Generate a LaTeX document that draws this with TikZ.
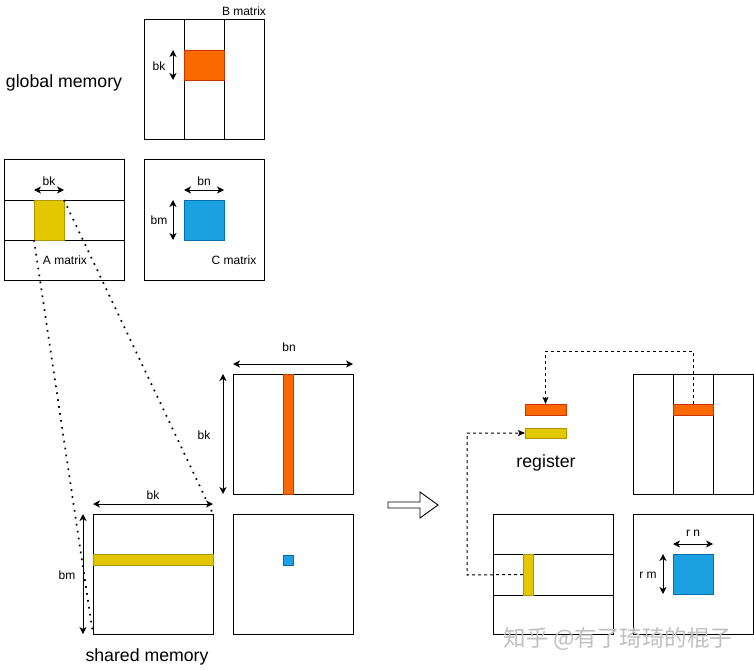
\documentclass[tikz,border=0pt]{standalone}
\usepackage{fontspec}
\setmainfont{Liberation Sans}
\newfontfamily\cjkfont{Noto Sans CJK SC}
\usetikzlibrary{arrows.meta}
\definecolor{orF}{HTML}{FA6800}
\definecolor{orD}{HTML}{C73500}
\definecolor{yeF}{HTML}{E3C800}
\definecolor{yeD}{HTML}{B09500}
\definecolor{blF}{HTML}{1BA1E2}
\definecolor{blD}{HTML}{006EAF}
\tikzset{
  mat/.style={draw, line width=1pt, minimum width=120pt, minimum height=120pt, inner sep=0pt, outer sep=0pt, anchor=north west},
  blk/.style={inner sep=0pt, outer sep=0pt, anchor=north west, line width=0.8pt},
  orblk/.style={blk, fill=orF, draw=orD},
  yeblk/.style={blk, fill=yeF, draw=yeD},
  blblk/.style={blk, fill=blF, draw=blD},
  dim/.style={{Stealth[length=7pt,width=7pt,inset=2pt]}-{Stealth[length=7pt,width=7pt,inset=2pt]}, line width=1pt},
  big/.style={font=\fontsize{17.7}{20}\selectfont, inner sep=0pt},
  small/.style={font=\fontsize{12}{14}\selectfont, inner sep=0pt},
  dotline/.style={line width=1.7pt, dash pattern=on 1.7pt off 5.3pt},
  dashline/.style={line width=1pt, dash pattern=on 3pt off 3pt, -{Stealth[length=7pt,width=6pt,inset=1.5pt]}},
  divline/.style={line width=1pt}
}
\begin{document}
\begin{tikzpicture}[x=1pt,y=-1pt]
\useasboundingbox (0,0) rectangle (754,671);
% ---------- global memory ----------
\node[big] (gm) at (64,83) {global memory};
% B matrix
\node[mat, minimum width=120pt] (B) at (144,20) {};
\draw[divline] (184,20) -- (184,140) (224,20) -- (224,140);
\node[orblk, minimum width=40pt, minimum height=30pt] (bor) at (184,50) {};
\draw[dim] (173,50) -- (173,80);
\node[small] (bkB) at (159,66) {bk};
\node[small] (Blab) at (244,11) {B matrix};
% A matrix
\node[mat] (A) at (4,160) {};
\draw[divline] (4,200) -- (124,200) (4,240) -- (124,240);
\node[yeblk, minimum width=30pt, minimum height=40pt] (aye) at (34,200) {};
\draw[dim] (34,190) -- (64,190);
\node[small] (bkA) at (49,181) {bk};
\node[small] (Alab) at (65,260) {A matrix};
% C matrix
\node[mat] (C) at (144,160) {};
\node[blblk, minimum width=40pt, minimum height=40pt] (cbl) at (184,200) {};
\draw[dim] (184,190) -- (224,190);
\node[small] (bnC) at (204,181) {bn};
\draw[dim] (173,200) -- (173,240);
\node[small] (bmC) at (159,220) {bm};
\node[small] (Clab) at (234,260) {C matrix};
% ---------- shared memory ----------
\node[mat] (sA) at (93,514) {};
\node[yeblk, minimum width=120pt, minimum height=11pt] (sAy) at (93,554) {};
\draw[dim] (93,504) -- (213,504);
\node[small] (bksA) at (153,495) {bk};
\draw[dim] (83,514) -- (83,634);
\node[small] (bmsA) at (67,575) {bm};
\node[mat] (sB) at (233,374) {};
\node[orblk, minimum width=10pt, minimum height=120pt] (sBo) at (283,374) {};
\draw[dim] (233,364) -- (353,364);
\node[small] (bnsB) at (289,347) {bn};
\draw[dim] (223,374) -- (223,494);
\node[small] (bksB) at (204,435) {bk};
\node[mat] (sC) at (233,514) {};
\node[blblk, minimum width=10pt, minimum height=10pt] (sCb) at (283,555) {};
\node[big] (smlab) at (147,657) {shared memory};
% dotted projection lines
\draw[dotline] (aye.north east) -- (sA.north east);
\draw[dotline] (aye.south west) -- (sA.south west);
% big hollow arrow
\draw[line width=0.9pt, fill=white] (388,502) -- (420,502) -- (420,492) -- (438,505) -- (420,518) -- (420,508) -- (388,508) -- cycle;
% ---------- registers ----------
\node[mat] (rB) at (633,374) {};
\node[draw, line width=1pt, minimum width=40pt, minimum height=120pt, inner sep=0pt, outer sep=0pt, anchor=north west] (rBs) at (673,374) {};
\node[orblk, minimum width=40pt, minimum height=11pt] (rBo) at (673,404) {};
\node[mat] (rA) at (493,514) {};
\draw[divline] (493,554) -- (613,554) (493,595) -- (613,595);
\node[yeblk, minimum width=10pt, minimum height=41pt] (rAy) at (523,554) {};
\node[mat] (rC) at (633,514) {};
\node[blblk, minimum width=40pt, minimum height=40pt] (rCb) at (673,554) {};
\draw[dim] (673,544) -- (713,544);
\node[small] (rn) at (693,533) {r n};
\draw[dim] (663,554) -- (663,594);
\node[small] (rm) at (648,575) {r m};
\node[orblk, minimum width=41pt, minimum height=11pt] (rego) at (525,404) {};
\node[yeblk, minimum width=41pt, minimum height=10pt] (regy) at (525,428) {};
\node[big] (reglab) at (546,463) {register};
% dashed connectors
\coordinate (topturn) at (545.5,351);
\draw[dashline] (rBo.north) |- (topturn) -- (rego.north);
\coordinate (leftturn) at (467,575);
\draw[dashline] (rAy.west) -- (leftturn) |- (regy.west);
% watermark
\node[font=\cjkfont\fontsize{22.5}{25}\selectfont, text=black!25, inner sep=0pt] (wm) at (618,639) {知乎 @有了琦琦的棍子};
\end{tikzpicture}
\end{document}
